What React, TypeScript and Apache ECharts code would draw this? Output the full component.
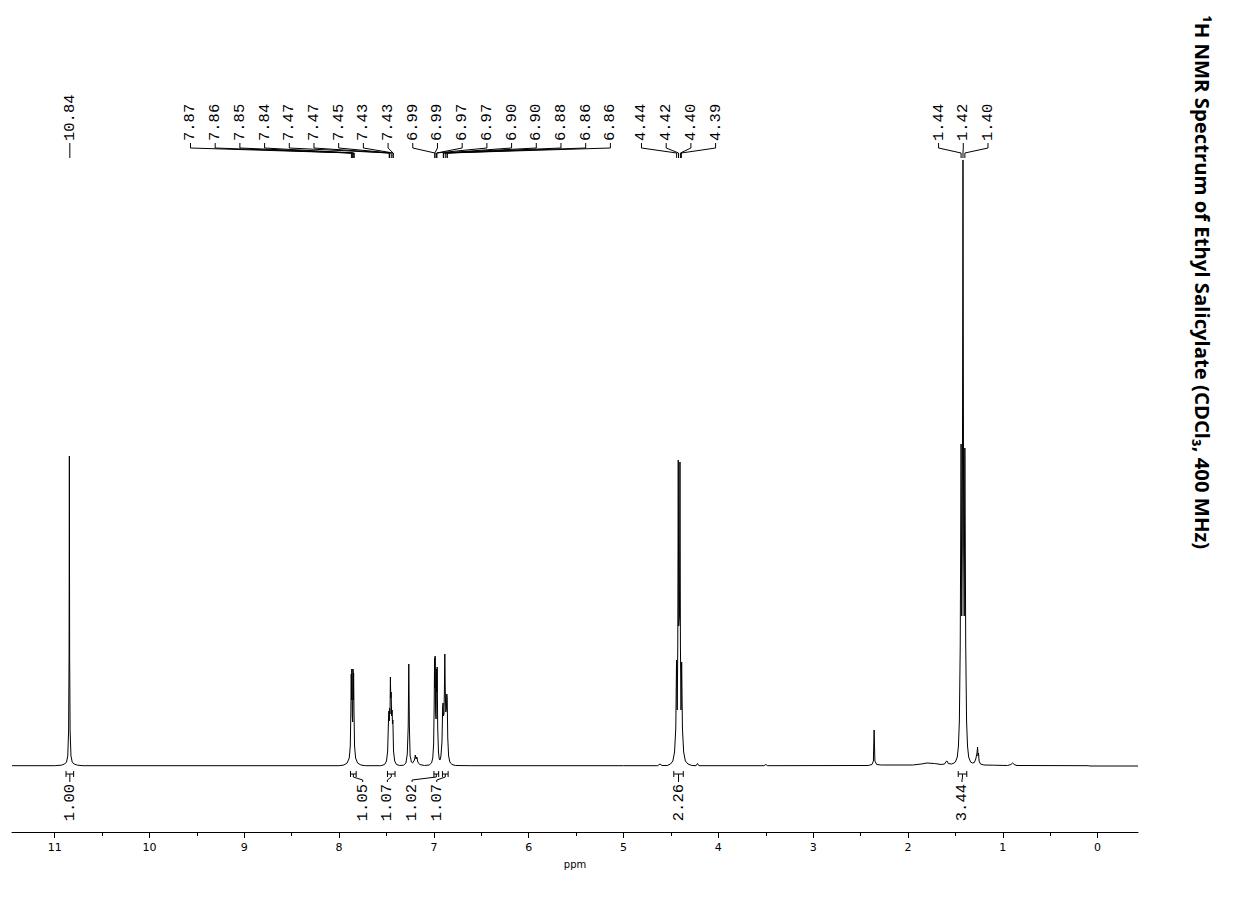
import React, { useEffect, useRef } from "react";
import * as echarts from "echarts";

// ---------- DATA ----------
// Spectrum trace: [chemical shift (ppm), intensity]
const spectrum: [number, number][] = [
  [11.45, 0.3], [11.0, 0.3], [10.93, 0.8], [10.895, 2], [10.875, 4], [10.862, 10], [10.853, 35], [10.848, 110], [10.845, 310], [10.842, 110], [10.837, 35], [10.828, 10], [10.815, 4], [10.795, 2], [10.76, 0.8], [10.7, 0.3],
  [8.0, 0.3], [7.95, 1], [7.915, 3], [7.893, 8], [7.882, 20], [7.876, 55], [7.872, 92], [7.869, 66], [7.866, 97], [7.861, 50], [7.857, 44], [7.853, 97], [7.85, 66], [7.847, 93], [7.843, 55], [7.837, 20], [7.826, 8], [7.805, 3], [7.77, 1], [7.72, 0.3],
  [7.56, 0.3], [7.52, 1.5], [7.5, 5], [7.488, 15], [7.479, 46], [7.475, 55], [7.471, 45], [7.467, 58], [7.463, 52], [7.459, 89], [7.455, 68], [7.451, 74], [7.446, 50], [7.441, 56], [7.437, 42], [7.433, 46], [7.426, 15], [7.414, 5], [7.395, 1.5], [7.36, 0.5],
  [7.32, 0.8], [7.295, 3], [7.281, 12], [7.271, 40], [7.265, 102], [7.259, 40], [7.251, 10], [7.245, 8], [7.238, 4], [7.225, 3], [7.205, 6], [7.196, 11], [7.188, 7], [7.18, 9], [7.17, 4], [7.15, 1.5], [7.1, 0.5],
  [7.05, 1], [7.025, 3], [7.012, 8], [7.003, 22], [6.997, 62], [6.993, 108], [6.99, 78], [6.987, 110], [6.982, 52], [6.977, 47], [6.972, 97], [6.969, 74], [6.966, 99], [6.96, 38], [6.952, 14], [6.944, 7], [6.936, 6],
  [6.926, 10], [6.915, 24], [6.908, 58], [6.904, 63], [6.9, 50], [6.894, 52], [6.889, 78], [6.885, 112], [6.881, 80], [6.875, 54], [6.869, 56], [6.864, 72], [6.86, 68], [6.854, 28], [6.845, 10], [6.832, 4], [6.81, 1.5], [6.77, 0.5],
  [6.6, 0.3], [5.0, 0.3], [4.64, 0.3], [4.615, 2], [4.595, 0.5], [4.54, 0.5], [4.505, 2], [4.48, 5], [4.462, 14], [4.449, 38], [4.441, 106], [4.434, 56], [4.428, 120], [4.423, 306], [4.418, 140], [4.41, 150], [4.405, 304], [4.4, 120], [4.394, 56], [4.387, 104], [4.379, 38], [4.366, 14], [4.348, 5], [4.32, 2], [4.28, 0.5], [4.235, 0.3], [4.22, 2.5], [4.205, 0.3],
  [3.52, 0.3], [3.5, 1.5], [3.48, 0.3],
  [2.42, 0.5], [2.38, 1.5], [2.365, 5], [2.357, 36], [2.349, 5], [2.33, 1.5], [2.28, 1], [1.95, 1], [1.86, 2], [1.8, 3], [1.72, 2.5], [1.65, 1.5], [1.615, 2], [1.598, 4.5], [1.588, 5], [1.575, 2.5], [1.54, 2], [1.515, 3],
  [1.5, 4], [1.48, 9], [1.468, 20], [1.458, 45], [1.449, 120], [1.44, 322], [1.433, 150], [1.427, 220], [1.42, 606], [1.413, 220], [1.407, 150], [1.4, 318], [1.391, 120], [1.382, 45], [1.372, 20], [1.36, 9], [1.34, 4], [1.32, 3],
  [1.3, 3.5], [1.285, 7], [1.272, 13], [1.266, 19], [1.261, 10], [1.256, 13], [1.25, 5], [1.235, 2], [1.2, 1], [1.1, 0.8], [0.95, 0.5], [0.915, 1.5], [0.896, 3], [0.88, 1.5], [0.85, 0.5], [0.1, 0.3], [0.08, 0], [-0.426, 0],
];

// Peak-pick labels (ppm), by multiplet cluster
const peakGroupA = [10.84];
const peakGroupB = [7.87, 7.86, 7.85, 7.84, 7.47, 7.47, 7.45, 7.43, 7.43, 6.99, 6.99, 6.97, 6.97, 6.9, 6.9, 6.88, 6.86, 6.86];
const peakGroupC = [4.44, 4.42, 4.4, 4.39];
const peakGroupD = [1.44, 1.42, 1.4];

// Integrals
const integralFrom = [10.88, 7.88, 7.49, 7.0, 6.91, 4.47, 1.47];
const integralTo = [10.8, 7.82, 7.41, 6.95, 6.85, 4.37, 1.38];
const integralValues = [1.0, 1.05, 1.07, 1.02, 1.07, 2.26, 3.44];

// Axis ticks
const xTickValues = [0, 1, 2, 3, 4, 5, 6, 7, 8, 9, 10, 11];
const xMinorTickValues = [0.5, 1.5, 2.5, 3.5, 4.5, 5.5, 6.5, 7.5, 8.5, 9.5, 10.5];

const titleText = "¹H NMR Spectrum of Ethyl Salicylate (CDCl₃, 400 MHz)";

// ---------- LAYOUT ----------
const X_MIN = -0.426;
const X_MAX = 11.45;
const Y_MIN = -66;
const Y_MAX = 666;
const GRID = { left: 12, right: 96, top: 100, bottom: 66 };
const LABEL_SPACING = 24.7;
const PEAK_GROUP_SHIFT = [0, -7.2, -0.7, 0.3];
const INTEGRAL_GROUPS = [[0], [1, 2, 3, 4], [5], [6]];
const INTEGRAL_GROUP_SHIFT = [0, -6.8, 0, -0.5];
const MONO = '"Liberation Mono", "DejaVu Sans Mono", monospace';

const peakGroups = [peakGroupA, peakGroupB, peakGroupC, peakGroupD];

export default function App() {
  const ref = useRef<HTMLDivElement>(null);

  useEffect(() => {
    document.body.style.margin = "0";
    if (!ref.current) return;
    const chart = echarts.init(ref.current, undefined, { renderer: "svg" });

    const peakInfo: { ppm: number; g: number; k: number; n: number; mean: number }[] = [];
    peakGroups.forEach((grp, g) => {
      const mean = grp.reduce((a, b) => a + b, 0) / grp.length;
      grp.forEach((ppm, k) => peakInfo.push({ ppm, g, k, n: grp.length, mean }));
    });

    const integralInfo = integralValues.map((v, i) => {
      const g = INTEGRAL_GROUPS.findIndex((grp) => grp.includes(i));
      const grp = INTEGRAL_GROUPS[g];
      const mean = grp.reduce((a, j) => a + (integralFrom[j] + integralTo[j]) / 2, 0) / grp.length;
      return { g, k: grp.indexOf(i), n: grp.length, mean };
    });

    const lineStyle = { stroke: "#000", lineWidth: 1 };

    chart.setOption({
      animation: false,
      backgroundColor: "#fff",
      grid: { ...GRID, containLabel: false },
      xAxis: [
        {
          type: "value",
          min: X_MIN,
          max: X_MAX,
          inverse: true,
          position: "bottom",
          axisLine: { show: true, onZero: false, lineStyle: { color: "#000", width: 1 } },
          axisTick: { show: true, customValues: xTickValues, length: 6, lineStyle: { color: "#000" } },
          axisLabel: {
            show: true,
            customValues: xTickValues,
            color: "#000",
            fontSize: 11,
            fontFamily: '"DejaVu Sans", sans-serif',
            margin: 10,
          },
          splitLine: { show: false },
          name: "ppm",
          nameLocation: "middle",
          nameGap: 27,
          nameTextStyle: { color: "#000", fontSize: 10, fontFamily: '"DejaVu Sans", sans-serif' },
        },
        {
          type: "value",
          min: X_MIN,
          max: X_MAX,
          inverse: true,
          position: "bottom",
          axisLine: { show: false, onZero: false },
          axisTick: { show: true, customValues: xMinorTickValues, length: 4, lineStyle: { color: "#000" } },
          axisLabel: { show: false },
          splitLine: { show: false },
        },
      ],
      yAxis: { type: "value", min: Y_MIN, max: Y_MAX, show: false, splitLine: { show: false } },
      series: [
        {
          type: "line",
          data: spectrum,
          showSymbol: false,
          symbol: "none",
          lineStyle: { color: "#000", width: 1 },
          silent: true,
          clip: true,
          z: 3,
        },
        {
          type: "custom",
          coordinateSystem: "cartesian2d",
          silent: true,
          clip: false,
          data: peakInfo.map((p) => [p.ppm, 0]),
          renderItem: (params: any, api: any) => {
            const info = peakInfo[params.dataIndex];
            const px = api.coord([info.ppm, 0])[0];
            const cx = api.coord([info.mean, 0])[0] + PEAK_GROUP_SHIFT[info.g];
            const lx = cx + (info.k - (info.n - 1) / 2) * LABEL_SPACING;
            return {
              type: "group",
              children: [
                { type: "line", shape: { x1: lx, y1: 143, x2: lx, y2: 148 }, style: lineStyle },
                { type: "line", shape: { x1: lx, y1: 148, x2: px, y2: 153 }, style: lineStyle },
                { type: "line", shape: { x1: px, y1: 153, x2: px, y2: 158 }, style: lineStyle },
                {
                  type: "text",
                  x: lx,
                  y: 141,
                  rotation: Math.PI / 2,
                  style: {
                    text: info.ppm.toFixed(2),
                    fill: "#000",
                    font: `15.5px ${MONO}`,
                    align: "left",
                    verticalAlign: "middle",
                    textAlign: "left",
                    textVerticalAlign: "middle",
                  },
                },
              ],
            };
          },
        },
        {
          type: "custom",
          coordinateSystem: "cartesian2d",
          silent: true,
          clip: false,
          data: integralValues.map((v, i) => [integralFrom[i], integralTo[i], v]),
          renderItem: (params: any, api: any) => {
            const i = params.dataIndex;
            const info = integralInfo[i];
            const x1 = api.coord([api.value(0), 0])[0];
            const x2 = api.coord([api.value(1), 0])[0];
            const bx = (x1 + x2) / 2;
            const cx = api.coord([info.mean, 0])[0] + INTEGRAL_GROUP_SHIFT[info.g];
            const lx = cx + (info.k - (info.n - 1) / 2) * LABEL_SPACING;
            const yb = 774;
            return {
              type: "group",
              children: [
                { type: "line", shape: { x1, y1: yb, x2, y2: yb }, style: lineStyle },
                { type: "line", shape: { x1, y1: yb - 3, x2: x1, y2: yb + 3 }, style: lineStyle },
                { type: "line", shape: { x1: x2, y1: yb - 3, x2, y2: yb + 3 }, style: lineStyle },
                { type: "line", shape: { x1: bx, y1: yb, x2: bx, y2: 777 }, style: lineStyle },
                { type: "line", shape: { x1: bx, y1: 777, x2: lx, y2: 780 }, style: lineStyle },
                { type: "line", shape: { x1: lx, y1: 780, x2: lx, y2: 782 }, style: lineStyle },
                {
                  type: "text",
                  x: lx,
                  y: 784,
                  rotation: Math.PI / 2,
                  style: {
                    text: Number(api.value(2)).toFixed(2),
                    fill: "#000",
                    font: `15.5px ${MONO}`,
                    align: "right",
                    verticalAlign: "middle",
                    textAlign: "right",
                    textVerticalAlign: "middle",
                  },
                },
              ],
            };
          },
        },
      ],
      graphic: [
        {
          type: "text",
          x: 1203,
          y: 15,
          rotation: -Math.PI / 2,
          style: {
            text: titleText,
            fill: "#000",
            font: 'bold 20.3px "Open Sans", "DejaVu Sans", sans-serif',
            align: "left",
            verticalAlign: "middle",
            textAlign: "left",
            textVerticalAlign: "middle",
          },
        },
      ],
    });

    return () => chart.dispose();
  }, []);

  return <div ref={ref} style={{ width: 1234, height: 898 }} />;
}
